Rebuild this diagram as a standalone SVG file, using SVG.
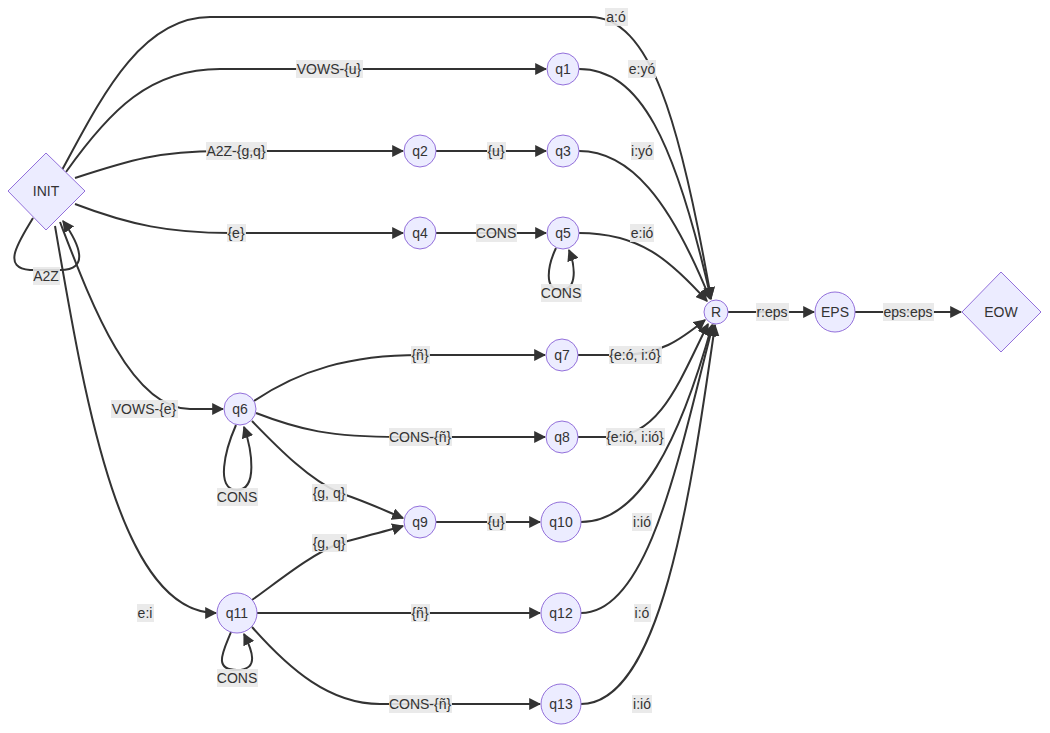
<svg xmlns="http://www.w3.org/2000/svg" width="1050" height="733" viewBox="0 0 1050 733">
<style>
.node{fill:#ECECFF;stroke:#9370DB;stroke-width:1}
.nt{font-family:"Liberation Sans",Arial,sans-serif;font-size:14px;fill:#333;text-anchor:middle;dominant-baseline:central}
.e{fill:none;stroke:#333;stroke-width:2}
.lb{fill:#e8e8e8;opacity:0.9}
.lt{font-family:"Liberation Sans",Arial,sans-serif;font-size:14px;fill:#333;text-anchor:middle;dominant-baseline:central}
</style>
<defs>
<marker id="arr" viewBox="0 0 10 10" refX="9" refY="5" markerWidth="12" markerHeight="12" markerUnits="userSpaceOnUse" orient="auto">
<path d="M0,0 L10,5 L0,10 z" fill="#333"/>
</marker>
</defs>
<rect width="1050" height="733" fill="#fff"/>
<g id="connectors">
<path class="e" marker-end="url(#arr)" d="M62,170 C100,100 140,17 210,17 L590,17 C650,17 680,120 711,298"/>
<path class="e" marker-end="url(#arr)" d="M66,172 C110,110 150,69 220,69 L546,69"/>
<path class="e" marker-end="url(#arr)" d="M579,69 C640,69 675,140 711,299"/>
<path class="e" marker-end="url(#arr)" d="M75,178 C130,160 160,151 220,151 L403,151"/>
<path class="e" marker-end="url(#arr)" d="M436,151 L546,151"/>
<path class="e" marker-end="url(#arr)" d="M579,151 C630,151 670,200 710,299"/>
<path class="e" marker-end="url(#arr)" d="M75,204 C130,225 170,233 230,233 L403,233"/>
<path class="e" marker-end="url(#arr)" d="M436,233 L546,233"/>
<path class="e" marker-end="url(#arr)" d="M556,248 C548,265 543,290 561,290 C578,290 575,265 569,250"/>
<path class="e" marker-end="url(#arr)" d="M579,233 C640,233 670,260 707,301"/>
<path class="e" marker-end="url(#arr)" d="M33,218 C20,240 0,268 30,270 L60,270 C90,270 80,245 63,221"/>
<path class="e" marker-end="url(#arr)" d="M60,222 C90,300 130,409 190,409 L223,409"/>
<path class="e" marker-end="url(#arr)" d="M55,226 C85,400 120,613 216,613"/>
<path class="e" marker-end="url(#arr)" d="M254,401 C300,370 350,355 420,355 L545,355"/>
<path class="e" marker-end="url(#arr)" d="M578,355 L620,355 C660,355 680,340 705,320"/>
<path class="e" marker-end="url(#arr)" d="M256,413 C300,430 330,437 400,437 L545,437"/>
<path class="e" marker-end="url(#arr)" d="M578,437 L610,437 C660,437 680,380 708,324"/>
<path class="e" marker-end="url(#arr)" d="M236,425 C225,450 215,490 237,490 C258,490 252,450 244,427"/>
<path class="e" marker-end="url(#arr)" d="M252,421 C280,450 310,480 340,493 C370,503 390,513 403,518"/>
<path class="e" marker-end="url(#arr)" d="M436,522 L540,522"/>
<path class="e" marker-end="url(#arr)" d="M581,522 C640,522 680,440 712,325"/>
<path class="e" marker-end="url(#arr)" d="M252,600 C280,580 310,555 340,543 C370,535 390,530 403,526"/>
<path class="e" marker-end="url(#arr)" d="M257,613 L540,613"/>
<path class="e" marker-end="url(#arr)" d="M231,632 C224,650 212,670 237,670 C260,670 252,650 244,634"/>
<path class="e" marker-end="url(#arr)" d="M252,627 C290,670 330,704 380,704 L540,704"/>
<path class="e" marker-end="url(#arr)" d="M581,613 C650,613 680,450 713,325"/>
<path class="e" marker-end="url(#arr)" d="M581,704 C660,704 690,500 715,325"/>
<path class="e" marker-end="url(#arr)" d="M728,312 L814,312"/>
<path class="e" marker-end="url(#arr)" d="M855,312 L961,312"/>
</g>
<g id="labels">
<rect class="lb" x="605" y="8" width="23" height="18"/><text class="lt" x="616" y="17">a:ó</text>
<rect class="lb" x="296" y="60" width="67" height="18"/><text class="lt" x="329" y="69">VOWS-{u}</text>
<rect class="lb" x="206" y="142" width="61" height="18"/><text class="lt" x="236" y="151">A2Z-{g,q}</text>
<rect class="lb" x="227" y="224" width="19" height="18"/><text class="lt" x="236" y="233">{e}</text>
<rect class="lb" x="487" y="142" width="19" height="18"/><text class="lt" x="496" y="151">{u}</text>
<rect class="lb" x="476" y="224" width="41" height="18"/><text class="lt" x="496" y="233">CONS</text>
<rect class="lb" x="541" y="284" width="41" height="18"/><text class="lt" x="561" y="293">CONS</text>
<rect class="lb" x="628" y="60" width="28" height="18"/><text class="lt" x="642" y="69">e:yó</text>
<rect class="lb" x="631" y="142" width="23" height="18"/><text class="lt" x="642" y="151">i:yó</text>
<rect class="lb" x="630" y="224" width="24" height="18"/><text class="lt" x="642" y="233">e:ió</text>
<rect class="lb" x="33" y="267" width="27" height="18"/><text class="lt" x="46" y="276">A2Z</text>
<rect class="lb" x="756" y="303" width="33" height="18"/><text class="lt" x="772" y="312">r:eps</text>
<rect class="lb" x="883" y="303" width="51" height="18"/><text class="lt" x="908" y="312">eps:eps</text>
<rect class="lb" x="411" y="346" width="19" height="18"/><text class="lt" x="420" y="355">{ñ}</text>
<rect class="lb" x="609" y="346" width="53" height="18"/><text class="lt" x="635" y="355">{e:ó, i:ó}</text>
<rect class="lb" x="111" y="400" width="67" height="18"/><text class="lt" x="144" y="409">VOWS-{e}</text>
<rect class="lb" x="389" y="428" width="63" height="18"/><text class="lt" x="420" y="437">CONS-{ñ}</text>
<rect class="lb" x="606" y="428" width="59" height="18"/><text class="lt" x="635" y="437">{e:ió, i:ió}</text>
<rect class="lb" x="217" y="488" width="41" height="18"/><text class="lt" x="237" y="497">CONS</text>
<rect class="lb" x="312" y="484" width="35" height="18"/><text class="lt" x="329" y="493">{g, q}</text>
<rect class="lb" x="487" y="513" width="19" height="18"/><text class="lt" x="496" y="522">{u}</text>
<rect class="lb" x="312" y="534" width="35" height="18"/><text class="lt" x="329" y="543">{g, q}</text>
<rect class="lb" x="632" y="513" width="20" height="18"/><text class="lt" x="642" y="522">i:ió</text>
<rect class="lb" x="137" y="604" width="17" height="18"/><text class="lt" x="145" y="613">e:i</text>
<rect class="lb" x="411" y="604" width="19" height="18"/><text class="lt" x="420" y="613">{ñ}</text>
<rect class="lb" x="634" y="604" width="17" height="18"/><text class="lt" x="642" y="613">i:ó</text>
<rect class="lb" x="217" y="669" width="41" height="18"/><text class="lt" x="237" y="678">CONS</text>
<rect class="lb" x="389" y="695" width="63" height="18"/><text class="lt" x="420" y="704">CONS-{ñ}</text>
<rect class="lb" x="632" y="695" width="20" height="18"/><text class="lt" x="642" y="704">i:ió</text>
</g>
<g id="INIT"><polygon class="node" points="46,153 85,191 46,230 8,191"/><text class="nt" x="46" y="191">INIT</text></g>
<g id="q1"><circle class="node" cx="563" cy="69" r="16"/><text class="nt" x="563" y="69">q1</text></g>
<g id="q2"><circle class="node" cx="420" cy="151" r="16"/><text class="nt" x="420" y="151">q2</text></g>
<g id="q3"><circle class="node" cx="563" cy="151" r="16"/><text class="nt" x="563" y="151">q3</text></g>
<g id="q4"><circle class="node" cx="420" cy="233" r="16"/><text class="nt" x="420" y="233">q4</text></g>
<g id="q5"><circle class="node" cx="563" cy="233" r="16"/><text class="nt" x="563" y="233">q5</text></g>
<g id="R"><circle class="node" cx="716" cy="312" r="12"/><text class="nt" x="716" y="312">R</text></g>
<g id="EPS"><circle class="node" cx="835" cy="312" r="20"/><text class="nt" x="835" y="312">EPS</text></g>
<g id="EOW"><polygon class="node" points="1001,272 1041,312 1001,352 962,312"/><text class="nt" x="1001" y="312">EOW</text></g>
<g id="q6"><circle class="node" cx="240" cy="409" r="16"/><text class="nt" x="240" y="409">q6</text></g>
<g id="q7"><circle class="node" cx="562" cy="355" r="16"/><text class="nt" x="562" y="355">q7</text></g>
<g id="q8"><circle class="node" cx="562" cy="437" r="16"/><text class="nt" x="562" y="437">q8</text></g>
<g id="q9"><circle class="node" cx="420" cy="522" r="16"/><text class="nt" x="420" y="522">q9</text></g>
<g id="q10"><circle class="node" cx="561" cy="522" r="20"/><text class="nt" x="561" y="522">q10</text></g>
<g id="q11"><circle class="node" cx="237" cy="613" r="20"/><text class="nt" x="237" y="613">q11</text></g>
<g id="q12"><circle class="node" cx="561" cy="613" r="20"/><text class="nt" x="561" y="613">q12</text></g>
<g id="q13"><circle class="node" cx="561" cy="704" r="20"/><text class="nt" x="561" y="704">q13</text></g>
</svg>
